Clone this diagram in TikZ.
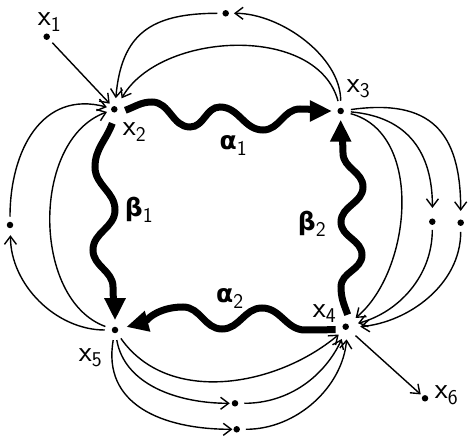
\documentclass[tikz,border=0pt]{standalone}
\usepackage{fontspec}
\newfontfamily\grkfont{DejaVu Sans}
\usetikzlibrary{arrows.meta,calc}
\begin{document}
\begin{tikzpicture}[x=1pt,y=1pt,
  dot/.style={circle,fill,inner sep=0pt,minimum size=6.5pt,outer sep=0pt},
  lab/.style={inner sep=0pt,font=\sffamily\fontsize{30}{36}\selectfont},
  glab/.style={inner sep=0pt,font=\sffamily\fontsize{30}{36}\selectfont},
  thinarr/.style={line width=1.4pt,-{Straight Barb[length=8pt,width=12pt]}},
  wave/.style={line width=7pt,-{Triangle[length=22pt,width=20pt]}},
  ]
\newcommand\grk[1]{{\grkfont\bfseries\fontsize{25}{30}\selectfont #1}}
\useasboundingbox (0,0) rectangle (474,442);
% points
\node[dot] (x1) at (46.7,405.3) {};
\node[dot] (x2) at (114.3,332.7) {};
\node[dot] (x3) at (340.7,331) {};
\node[dot] (x4) at (345.7,115.3) {};
\node[dot] (x5) at (115,112) {};
\node[dot] (x6) at (425,43.7) {};
\node[dot] (t) at (225.7,428.7) {};
\node[dot] (l) at (10,217) {};
\node[dot] (r1) at (432.3,220.3) {};
\node[dot] (r2) at (460.7,219.3) {};
\node[dot] (b1) at (235,38.7) {};
\node[dot] (b2) at (236.7,12.7) {};
% labels
\node[lab] (lx1) at (49.5,420) {x\textsubscript{1}};
\node[lab] (lx2) at (134.5,310) {x\textsubscript{2}};
\node[lab] (lx3) at (358.5,353.5) {x\textsubscript{3}};
\node[lab] (lx4) at (324.5,128.5) {x\textsubscript{4}};
\node[lab] (lx5) at (90.5,84) {x\textsubscript{5}};
\node[lab] (lx6) at (446.5,47) {x\textsubscript{6}};
\node[glab] (la1) at (233.5,296.5) {\grk{α}\textsubscript{1}};
\node[glab] (lb1) at (139,232) {\grk{β}\textsubscript{1}};
\node[glab] (lb2) at (312,218) {\grk{β}\textsubscript{2}};
\node[glab] (la2) at (230,143.5) {\grk{α}\textsubscript{2}};
% wavy thick arrows
\draw[wave,shorten >=5.5pt] (x2) ++(11,-1) to[out=20,in=180] (152,340) to[out=0,in=180] (190,315)
  to[out=0,in=180] (220,335) to[out=0,in=180] (263,312) to[out=0,in=180] (300,333) to[out=0,in=180] (x3);
\draw[wave,shorten >=6.5pt] (x2) ++(-2,-14) to[out=-110,in=90] (95,275) to[out=-90,in=90] (115,232)
  to[out=-90,in=90] (93,192) to[out=-90,in=90] (113,155) to[out=-90,in=90] (x5);
\draw[wave,shorten >=5.5pt] (x4) ++(2,12) to[out=110,in=-90] (341,155) to[out=90,in=-90] (362,187)
  to[out=90,in=-90] (341,220) to[out=90,in=-90] (363,255) to[out=90,in=-90] (343,289) to[out=90,in=-90] (x3);
\draw[wave,shorten >=8.5pt] (x4) ++(-10,-3) to[out=180,in=0] (305,112) to[out=180,in=0] (262,134)
  to[out=180,in=0] (222,113) to[out=180,in=0] (183,135) to[out=180,in=15] (x5);
% straight thin arrows
\draw[thinarr,shorten <=5pt,shorten >=4pt] (x1) -- (x2.124);
\draw[thinarr,shorten <=10pt,shorten >=2.5pt] (x4.-43) -- (x6);
% top
\draw[thinarr,shorten <=7pt,shorten >=5pt] (x3) to[out=90,in=0,looseness=0.9] (t.0);
\draw[thinarr,shorten <=5pt,shorten >=8pt] (t) to[out=180,in=85,looseness=1.3] (x2.76);
\draw[thinarr,shorten <=7pt,shorten >=10pt] (x3) to[out=105,in=60] (x2.45);
% left
\draw[thinarr,shorten <=7pt,shorten >=7pt] (x5) to[out=180,in=-90] (l.-82);
\draw[thinarr,shorten <=5pt,shorten >=4.5pt] (l) to[out=90,in=165,looseness=1.2] (x2.163);
\draw[thinarr,shorten <=7pt,shorten >=4.5pt] (x5) to[out=160,in=200] (x2.200);
% right
\draw[thinarr,shorten <=7pt,shorten >=8.5pt] (x3) to[out=8,in=90,looseness=1.4] (r2.90);
\draw[thinarr,shorten <=7pt,shorten >=10.5pt] (x3) to[out=-5,in=90,looseness=1.2] (r1.88);
\draw[thinarr,shorten <=7pt,shorten >=10pt] (x3) to[out=-15,in=40] (x4.46);
\draw[thinarr,shorten <=5pt,shorten >=9.5pt] (r1) to[out=-90,in=15] (x4.17);
\draw[thinarr,shorten <=6pt,shorten >=11.5pt] (r2) to[out=-90,in=5] (x4.-17);
% bottom
\draw[thinarr,shorten <=7pt,shorten >=1pt] (x5) to[out=-100,in=180,looseness=1.2] (b2.180);
\draw[thinarr,shorten <=7pt,shorten >=2pt] (x5) to[out=-80,in=180] (b1.180);
\draw[thinarr,shorten <=7pt,shorten >=7.5pt] (x5) to[out=-55,in=220] (x4.248);
\draw[thinarr,shorten <=6pt,shorten >=10pt] (b1) to[out=0,in=-115] (x4.276);
\draw[thinarr,shorten <=6pt,shorten >=10pt] (b2) to[out=0,in=-95] (x4.303);
\end{tikzpicture}
\end{document}
